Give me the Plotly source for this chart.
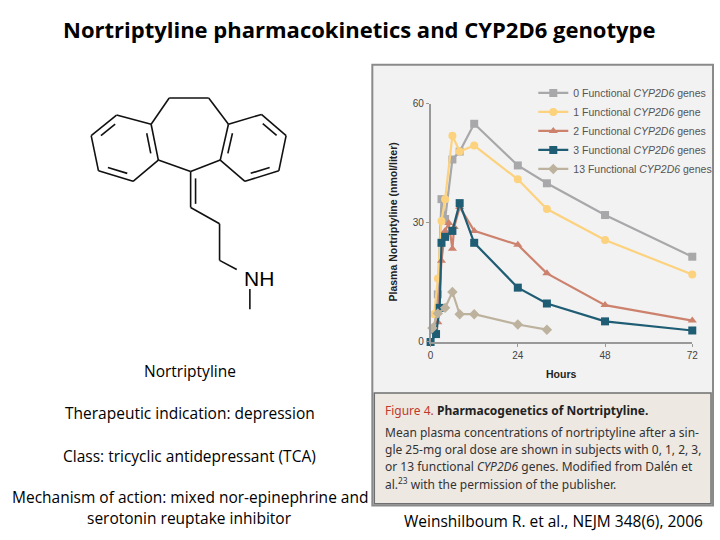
import plotly.graph_objects as go

W, H = 720, 540
def px(x): return x / W
def py(y): return 1 - y / H

labels = ["0 Functional <i>CYP2D6</i> genes", "1 Functional <i>CYP2D6</i> gene",
          "2 Functional <i>CYP2D6</i> genes", "3 Functional <i>CYP2D6</i> genes",
          "13 Functional <i>CYP2D6</i> genes"]
t0 = [1, 2, 3, 4, 6, 8, 12, 24, 32, 48, 72]
y0 = [3, 12, 36, 31, 46, 48, 55, 44.5, 40, 32, 21.5]
t1 = [1, 2, 3, 4, 6, 8, 12, 24, 32, 48, 72]
y1 = [7, 16, 30.5, 36, 52, 48, 49.5, 41, 33.5, 25.7, 17]
t2 = [2, 3, 4, 5, 6, 6.5, 8, 12, 24, 32, 48, 72]
y2 = [5, 20.5, 28, 30, 23.5, 29, 34, 28, 24.5, 17.3, 9.3, 5.4]
t3 = [0, 1.5, 2.5, 3, 4, 6, 8, 12, 24, 32, 48, 72]
y3 = [0, 2, 8.6, 25, 26.5, 28, 35, 25, 13.7, 9.7, 5.2, 2.9]
t4 = [0.5, 2, 4, 6, 8, 12, 24, 32]
y4 = [3.5, 7.2, 8.6, 12.6, 7, 7, 4.4, 3.1]

series = [(t0, y0, "#a8a8aa", "square"), (t1, y1, "#fcd27e", "circle"),
          (t2, y2, "#cc826d", "triangle-up"), (t3, y3, "#1f5d74", "square"),
          (t4, y4, "#bdb29d", "diamond")]

fig = go.Figure()
for lab, (t, y, c, m) in zip(labels, series):
    fig.add_trace(go.Scatter(x=t, y=y, name=lab, mode="lines+markers",
                             line=dict(color=c, width=2.2),
                             marker=dict(symbol=m, size=8, color=c),
                             cliponaxis=False))

shapes = []
shapes.append(dict(type="rect", xref="paper", yref="paper", x0=px(374), x1=px(719), y0=py(511), y1=py(61),
                   fillcolor="#f2f2f2", line=dict(color="#8a8a8a", width=2), layer="below"))
shapes.append(dict(type="rect", xref="paper", yref="paper", x0=px(376), x1=px(717), y0=py(509), y1=py(396),
                   fillcolor="#eee8e2", line=dict(color="#6f6f6f", width=1.5), layer="below"))

def line(a, b, w=1.6):
    shapes.append(dict(type="line", xref="paper", yref="paper",
                       x0=px(a[0]), y0=py(a[1]), x1=px(b[0]), y1=py(b[1]),
                       line=dict(color="#111", width=w)))

L = [(115, 112.3), (150, 121.7), (157.3, 158.3), (131.7, 180), (96.7, 169.3), (89.3, 133.3)]
R = [(228.3, 121.7), (261.7, 111.7), (286.7, 133.3), (279.3, 169.3), (245, 180), (220, 158.3)]
def ring(P, inner):
    cx = sum(p[0] for p in P) / 6; cy = sum(p[1] for p in P) / 6
    for i in range(6):
        line(P[i], P[(i + 1) % 6])
    for i in inner:
        a, b = P[i], P[(i + 1) % 6]
        f = 0.2
        a2 = (a[0] + (cx - a[0]) * f, a[1] + (cy - a[1]) * f)
        b2 = (b[0] + (cx - b[0]) * f, b[1] + (cy - b[1]) * f)
        s = 0.15
        a3 = (a2[0] + (b2[0] - a2[0]) * s, a2[1] + (b2[1] - a2[1]) * s)
        b3 = (b2[0] + (a2[0] - b2[0]) * s, b2[1] + (a2[1] - b2[1]) * s)
        line(a3, b3)
ring(L, [5, 1, 3])
ring(R, [1, 5, 3])
line((150, 121.7), (168.3, 95)); line((168.3, 95), (208.3, 95)); line((208.3, 95), (228.3, 121.7))
C = (190, 170)
line((157.3, 158.3), C); line((220, 158.3), C)
line(C, (190, 206.7)); line((195, 177), (195, 203))
line((190, 206.7), (219.3, 223.3)); line((219.3, 223.3), (219.3, 260.7)); line((219.3, 260.7), (236.7, 270))
line((250, 290), (250, 310.7))

F = "Liberation Sans"
ann = []
def txt(x, y, s, size, color="#000", xa="center", font=F):
    ann.append(dict(x=px(x), y=py(y), xref="paper", yref="paper", text=s, showarrow=False,
                    xanchor=xa, yanchor="middle", font=dict(family=font, size=size, color=color)))
txt(360, 24, "<b>Nortriptyline pharmacokinetics and CYP2D6 genotype</b>", 22, font="Open Sans")
txt(259, 279, "NH", 21)
txt(189, 374, "Nortriptyline", 15.5, font="Open Sans")
txt(189, 416, "Therapeutic indication: depression", 15.5, font="Open Sans")
txt(189, 460, "Class: tricyclic antidepressant (TCA)", 15.5, font="Open Sans")
txt(189, 502, "Mechanism of action: mixed nor-epinephrine and", 15.5, font="Open Sans")
txt(189, 524, "serotonin reuptake inhibitor", 15.5, font="Open Sans")
txt(557, 527, "Weinshilboum R. et al., NEJM 348(6), 2006", 15.5, font="Open Sans")
txt(385, 414, "<span style='color:#c0392b'>Figure 4.</span> <b>Pharmacogenetics of Nortriptyline.</b>", 12, "#222", "left", "Noto Sans")
cap = ["Mean plasma concentrations of nortriptyline after a sin-",
       "gle 25-mg oral dose are shown in subjects with 0, 1, 2, 3,",
       "or 13 functional <i>CYP2D6</i> genes. Modified from Dalén et",
       "al.<sup>23</sup> with the permission of the publisher."]
for i, s in enumerate(cap):
    txt(385, 436 + i * 17.5, s, 12, "#333", "left", "Noto Sans")
txt(395, 222, "<b>Plasma Nortriptyline (nmol/liter)</b>", 10.5, "#222")
ann[-1]["textangle"] = -90
txt(565, 377, "<b>Hours</b>", 10.5, "#222")

fig.update_layout(
    width=W, height=H, margin=dict(l=0, r=0, t=0, b=0),
    paper_bgcolor="white", plot_bgcolor="rgba(0,0,0,0)",
    shapes=shapes, annotations=ann,
    xaxis=dict(domain=[px(433), px(698)], range=[0, 72], tickvals=[0, 24, 48, 72],
               showgrid=False, zeroline=False, showline=True, linecolor="#999", linewidth=1.5,
               ticks="outside", ticklen=3, tickcolor="#999",
               tickfont=dict(family=F, size=10, color="#444")),
    yaxis=dict(domain=[py(344), py(101)], range=[0, 60], tickvals=[0, 30, 60],
               showgrid=False, zeroline=False, showline=True, linecolor="#999", linewidth=1.5,
               ticks="outside", ticklen=3, tickcolor="#999",
               tickfont=dict(family=F, size=10, color="#444")),
    legend=dict(x=px(537), y=py(75), xanchor="left", yanchor="top", bgcolor="rgba(0,0,0,0)",
                font=dict(family=F, size=10.5, color="#555"), tracegroupgap=0, itemwidth=30),
    showlegend=True,
)
fig.write_html("out.html", config={"displayModeBar": False},
               post_script="document.body.style.margin='0';")
